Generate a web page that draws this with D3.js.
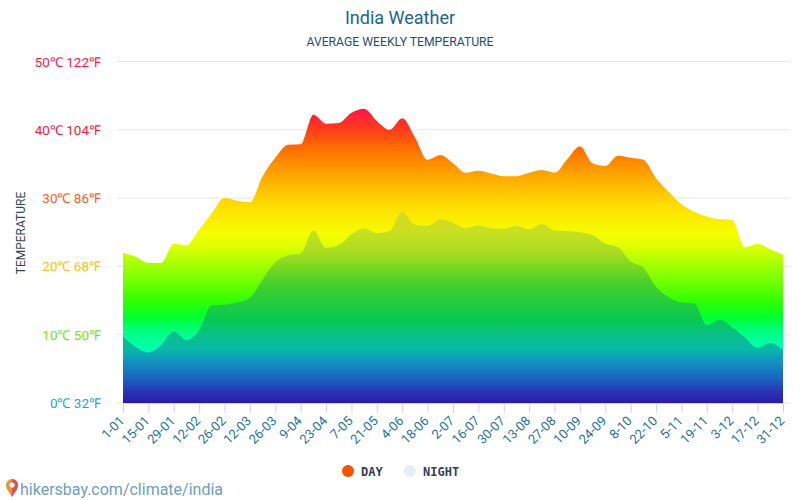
<!DOCTYPE html>
<html>
<head>
<meta charset="utf-8">
<script src="https://cdn.jsdelivr.net/npm/d3@7/dist/d3.min.js"></script>
<style>
    body { margin: 0; background: #fff; }
    text { font-family: Roboto, sans-serif; }
</style>
</head>
<body>
<div id="chart"></div>
<script>
// one value per week, 53 weeks
const dayTemps = [22.0, 21.4, 20.5, 20.5, 23.3, 23.1, 25.4, 27.8, 30.0, 29.6, 29.4, 33.2, 35.9, 37.8, 37.9,
    42.2, 40.9, 41.0, 42.5, 43.1, 41.3, 40.0, 41.7, 38.9, 35.6, 36.3, 35.1, 33.7, 34.0, 33.6, 33.2, 33.2,
    33.7, 34.1, 33.7, 35.7, 37.6, 35.1, 34.7, 36.2, 35.9, 35.6, 32.9, 30.9, 29.1, 28.0, 27.3, 26.9, 26.8,
    22.8, 23.3, 22.5, 21.7];
const nightTemps = [9.7, 8.2, 7.4, 8.5, 10.5, 9.2, 10.7, 14.3, 14.4, 14.7, 15.4, 18.1, 20.6, 21.6, 21.9,
    25.3, 22.7, 23.1, 24.7, 25.6, 24.9, 25.2, 28.0, 26.1, 25.9, 26.9, 26.4, 25.6, 26.0, 25.6, 25.5, 25.9,
    25.4, 26.2, 25.3, 25.2, 25.0, 24.6, 23.3, 22.8, 20.7, 19.8, 17.0, 15.5, 14.7, 14.6, 11.4, 12.2, 11.1,
    9.6, 8.1, 8.8, 7.8];
// a label on every second week
const dateLabels = ['1-01', '15-01', '29-01', '12-02', '26-02', '12-03', '26-03', '9-04', '23-04', '7-05',
    '21-05', '4-06', '18-06', '2-07', '16-07', '30-07', '13-08', '27-08', '10-09', '24-09', '8-10', '22-10',
    '5-11', '19-11', '3-12', '17-12', '31-12'];
const celsiusTicks = [0, 10, 20, 30, 40, 50];
const fahrenheitTicks = [32, 50, 68, 86, 104, 122];
const tickColors = ['#2a9fe0', '#76e800', '#ffc107', '#ff5a1f', '#f5212f', '#ff1744'];
const dayStops = [[50, '#ff1744'], [43, '#ff1744'], [40, '#ff3d1a'], [37, '#ff7200'], [32.6, '#ffb000'],
    [29, '#ffdd00'], [24.6, '#f5ff00'], [23, '#e0ff00'], [20.5, '#aaff00'], [18, '#77ff00'], [15, '#33ff00'],
    [12.5, '#00ff30'], [10.5, '#00ff80'], [8, '#00ffb0'], [0, '#00ffb0']];
const nightStops = [[28, '#dcd820'], [25, '#c8e020'], [22, '#a8dc20'], [19.8, '#78d820'], [17.6, '#48d028'],
    [14.5, '#20cc40'], [12.2, '#08c850'], [10, '#0ac088'], [7.8, '#08b8a8'], [5.9, '#1290c0'], [3.4, '#1a60c0'],
    [1.5, '#2a30b5'], [0, '#2e18ad']];
const legendItems = [['DAY', '#ff5000'], ['NIGHT', '#e8edf3']];

const svg = d3.select('#chart').append('svg').attr('width', 800).attr('height', 500).style('display', 'block');

const x = d3.scaleLinear().domain([0, dayTemps.length - 1]).range([123, 783]);
const y = d3.scaleLinear().domain([0, 50]).range([403, 61.5]);

function addGradient(id, stops) {
    const grad = svg.append('defs').append('linearGradient')
        .attr('id', id)
        .attr('gradientUnits', 'userSpaceOnUse')
        .attr('x1', 0).attr('x2', 0)
        .attr('y1', y(50)).attr('y2', y(0));
    stops.forEach(s => {
        grad.append('stop')
            .attr('offset', (y(s[0]) - y(50)) / (y(0) - y(50)))
            .attr('stop-color', s[1]);
    });
}
addGradient('day-fill', dayStops);
addGradient('night-fill', [[50, nightStops[0][1]], ...nightStops]);

// grid
svg.append('g').selectAll('line').data(celsiusTicks).join('line')
    .attr('x1', 117).attr('x2', 790)
    .attr('y1', d => y(d)).attr('y2', d => y(d))
    .attr('stroke', '#e6e6e6');

// areas
const area = d3.area()
    .x((d, i) => x(i))
    .y0(y(0))
    .y1(d => y(d))
    .curve(d3.curveMonotoneX);
svg.append('path').datum(dayTemps).attr('fill', 'url(#day-fill)').attr('d', area);
svg.append('path').datum(nightTemps).attr('fill', 'url(#night-fill)').attr('d', area);

// x axis
const xAxis = d3.axisBottom(x)
    .tickValues(dateLabels.map((d, i) => i * 2))
    .tickFormat(d => dateLabels[d / 2])
    .tickSize(10)
    .tickSizeOuter(0);
const xg = svg.append('g').attr('transform', `translate(0,${y(0)})`).call(xAxis);
xg.select('.domain').attr('stroke', '#ccd6eb');
xg.selectAll('.tick line').attr('stroke', '#ccd6eb');
xg.selectAll('.tick text')
    .attr('fill', '#1f6fa8')
    .style('font-size', '13px')
    .style('font-family', 'Roboto, sans-serif')
    .attr('text-anchor', 'end')
    .attr('transform', 'translate(-3,14) rotate(-45)')
    .attr('dy', '0.5em')
    .attr('y', 0)
    .attr('x', 0);

// y labels
svg.append('g').selectAll('text').data(celsiusTicks).join('text')
    .attr('x', 101)
    .attr('y', d => y(d) + 5)
    .attr('text-anchor', 'end')
    .attr('fill', (d, i) => tickColors[i])
    .style('font-size', '13.5px')
    .text((d, i) => `${d}℃ ${fahrenheitTicks[i]}℉`);

svg.append('text')
    .attr('transform', 'translate(25,233) rotate(-90)')
    .attr('text-anchor', 'middle')
    .attr('fill', '#34495e')
    .style('font-size', '12px')
    .text('TEMPERATURE');

// titles
svg.append('text').attr('x', 400).attr('y', 24).attr('text-anchor', 'middle')
    .attr('fill', '#1a6496').style('font-size', '18px').text('India Weather');
svg.append('text').attr('x', 400).attr('y', 46).attr('text-anchor', 'middle')
    .attr('fill', '#1f4e79').style('font-size', '12.2px').text('AVERAGE WEEKLY TEMPERATURE');

// legend
const legend = svg.append('g').selectAll('g').data(legendItems).join('g')
    .attr('transform', (d, i) => `translate(${348 + i * 62},471)`);
legend.append('circle').attr('r', 6).attr('fill', d => d[1]);
legend.append('text')
    .attr('x', 13).attr('y', 4.5)
    .attr('fill', '#333f5c')
    .style('font-family', '"DejaVu Sans Mono", monospace')
    .style('font-weight', 'bold')
    .style('font-size', '12px')
    .text(d => d[0]);

// footer
const pin = svg.append('g').attr('transform', 'translate(12,488)');
pin.append('path')
    .attr('d', 'M0,9 C-3,4 -6,1 -6,-3 A6,6 0 0 1 6,-3 C6,1 3,4 0,9 Z')
    .attr('fill', '#e8953a');
pin.append('path')
    .attr('d', 'M0,9 C3,4 6,1 6,-3 A6,6 0 0 0 0,-9 Z')
    .attr('fill', '#d9534f');
pin.append('circle').attr('cy', -3).attr('r', 2.6).attr('fill', '#fff');
svg.append('text').attr('x', 20).attr('y', 495)
    .attr('fill', '#6f9dbf').style('font-size', '16px').text('hikersbay.com/climate/india');
</script>
</body>
</html>
